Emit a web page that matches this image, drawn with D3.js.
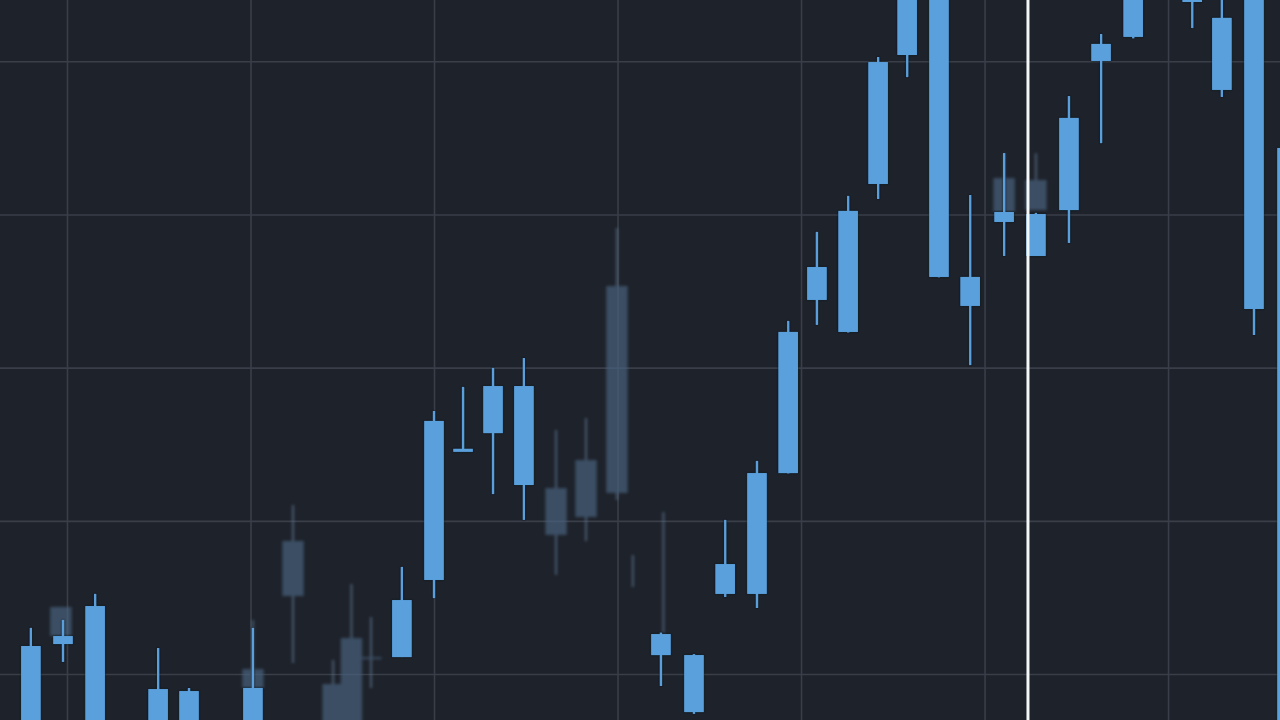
<!DOCTYPE html>
<html>
<head>
<meta charset="utf-8">
<script src="https://cdn.jsdelivr.net/npm/d3@7"></script>
<style>
  html, body { margin: 0; padding: 0; background: #1e222a; overflow: hidden; }
  svg { display: block; }
</style>
</head>
<body>
<svg id="chart" width="1280" height="720"></svg>
<script>
// ---- data ----
// sharp candles: time slot, open, close, high, low
const candleT     = [-1.18, -0.13, 0.92, 2.98, 3.99, 6.08, 10.95, 12.0, 12.95, 13.93, 14.94, 19.42, 20.5, 21.52, 22.56, 23.58, 24.52, 25.54, 26.52, 27.47, 28.51, 29.53, 30.64, 31.68, 32.76, 33.81, 34.86, 36.79, 37.76, 38.81, 39.89];
const candleOpen  = [5.5, 11.96, 5.5, 5.5, 5.5, 5.5, 11.11, 16.14, 24.6, 25.73, 22.34, 11.24, 7.52, 15.23, 15.23, 23.12, 34.42, 32.33, 41.99, 50.41, 35.92, 34.03, 39.51, 37.29, 40.29, 50.02, 51.59, 53.87, 48.13, 33.83, 5.5];
const candleClose = [11.83, 12.48, 14.44, 9.02, 8.89, 9.09, 14.83, 26.52, 24.7, 28.80, 28.80, 12.61, 11.24, 17.18, 23.12, 32.33, 36.57, 40.23, 49.95, 55.3, 55.3, 35.92, 40.16, 40.03, 46.30, 51.13, 55.3, 55.3, 52.83, 55.3, 44.34];
const candleHigh  = [13.01, 13.53, 15.23, 11.70, 9.09, 13.01, 16.99, 27.17, 28.74, 29.98, 30.63, 12.7, 11.3, 20.06, 23.91, 33.05, 38.86, 41.21, 50.28, 55.5, 55.5, 41.27, 44.01, 40.1, 47.73, 51.78, 55.5, 55.5, 55.5, 55.5, 44.4];
const candleLow   = [5.5, 10.79, 5.5, 5.5, 5.5, 5.5, 11.11, 14.96, 24.6, 21.75, 20.06, 9.22, 7.4, 15.03, 14.31, 23.1, 32.79, 32.3, 41.01, 48.97, 35.9, 30.17, 37.29, 37.29, 38.14, 44.66, 51.5, 52.17, 47.67, 32.13, 5.5];

// out-of-focus (ghost) candles
const ghostT     = [-0.2, 6.08, 7.39, 8.7, 9.3, 9.94, 15.99, 16.97, 17.98, 18.5, 19.5, 30.64, 31.68];
const ghostOpen  = [12.48, 9.09, 15.09, 5.5, 5.5, 11.0, 19.08, 20.25, 21.82, 16.7, 12.7, 40.16, 40.29];
const ghostClose = [14.38, 10.33, 18.69, 9.35, 12.35, 11.1, 22.14, 23.97, 35.33, 16.7, 12.7, 42.38, 42.25];
const ghostHigh  = [14.38, 13.53, 21.03, 10.92, 15.88, 13.72, 25.93, 26.71, 39.12, 17.77, 20.58, 44.01, 44.0];
const ghostLow   = [12.48, 9.09, 10.72, 5.5, 5.5, 9.09, 16.47, 18.68, 21.36, 15.68, 12.68, 40.16, 40.29];

// grid ticks and cursor
const gridTimes  = [0, 6, 12, 18, 24, 30, 36];
const gridPrices = [10, 20, 30, 40, 50];
const cursorT    = 31.42;

// ---- drawing ----
const W = 1280, H = 720;
const svg = d3.select("#chart");

const x = d3.scaleLinear().domain([-2.19, 39.66]).range([0, W]);
const y = d3.scaleLinear().domain([7, 54]).range([H, 0]);

const defs = svg.append("defs");
defs.append("filter").attr("id", "blur").attr("x", "-50%").attr("y", "-20%").attr("width", "200%").attr("height", "140%")
  .append("feGaussianBlur").attr("stdDeviation", 1.8);
defs.append("filter").attr("id", "shadow").attr("x", "-30%").attr("y", "-10%").attr("width", "160%").attr("height", "120%")
  .append("feDropShadow").attr("dx", 0).attr("dy", 0).attr("stdDeviation", 1.2).attr("flood-color", "#0b1420").attr("flood-opacity", 0.9);

svg.append("rect").attr("width", W).attr("height", H).attr("fill", "#1e222a");

// grid via axes
svg.append("g").attr("class", "grid-x").attr("transform", `translate(0,${H})`)
  .call(d3.axisBottom(x).tickValues(gridTimes).tickSize(-H).tickFormat(""));
svg.append("g").attr("class", "grid-y")
  .call(d3.axisLeft(y).tickValues(gridPrices).tickSize(-W).tickFormat(""));
svg.selectAll(".grid-x .domain, .grid-y .domain").remove();
svg.selectAll(".grid-x line, .grid-y line").attr("stroke", "#393e48").attr("stroke-width", 1.6);
svg.selectAll(".grid-y line").attr("x1", 0).attr("x2", W);

const bodyW = x(0.64) - x(0);
const ghostW = x(0.7) - x(0);

const ghosts = ghostT.map((t, i) => ({ t, o: ghostOpen[i], c: ghostClose[i], h: ghostHigh[i], l: ghostLow[i] }));
const candles = candleT.map((t, i) => ({ t, o: candleOpen[i], c: candleClose[i], h: candleHigh[i], l: candleLow[i] }));

const gg = svg.append("g").attr("filter", "url(#blur)").attr("opacity", 0.68);
gg.selectAll("line").data(ghosts).join("line")
  .attr("x1", d => x(d.t)).attr("x2", d => x(d.t))
  .attr("y1", d => y(d.h)).attr("y2", d => y(d.l))
  .attr("stroke", "#5d7894").attr("stroke-width", 2);
gg.selectAll("rect").data(ghosts.filter(d => d.o !== d.c)).join("rect")
  .attr("x", d => x(d.t) - ghostW / 2).attr("width", ghostW)
  .attr("y", d => y(Math.max(d.o, d.c)))
  .attr("height", d => Math.max(2, Math.abs(y(d.o) - y(d.c))))
  .attr("fill", "#4a6380");

const cg = svg.append("g").attr("filter", "url(#shadow)");
cg.selectAll("line").data(candles).join("line")
  .attr("x1", d => x(d.t)).attr("x2", d => x(d.t))
  .attr("y1", d => y(d.h)).attr("y2", d => y(d.l))
  .attr("stroke", "#5a9fdb").attr("stroke-width", 2.2);
cg.selectAll("rect").data(candles).join("rect")
  .attr("x", d => x(d.t) - bodyW / 2).attr("width", bodyW)
  .attr("y", d => y(Math.max(d.o, d.c)))
  .attr("height", d => Math.max(3, Math.abs(y(d.o) - y(d.c))))
  .attr("fill", "#5aa0dd");

svg.append("line")
  .attr("x1", x(cursorT)).attr("x2", x(cursorT))
  .attr("y1", 0).attr("y2", H)
  .attr("stroke", "#f4f6f8").attr("stroke-width", 3);
</script>
</body>
</html>
